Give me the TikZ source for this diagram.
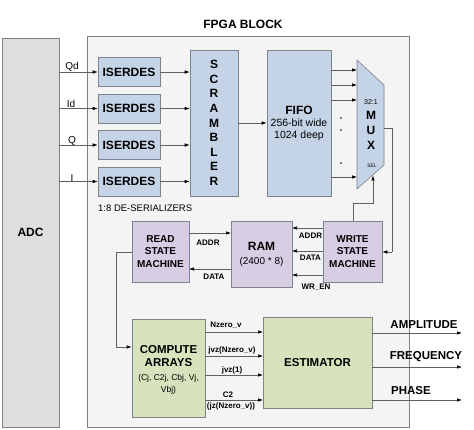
\documentclass[tikz,border=0pt]{standalone}
\usepackage{fontspec}
\setmainfont{Liberation Sans}
\usetikzlibrary{arrows.meta}
\definecolor{blk}{RGB}{196,212,230}
\definecolor{prp}{RGB}{216,206,228}
\definecolor{grn}{RGB}{214,227,188}
\definecolor{bord}{RGB}{125,130,140}
\definecolor{fpgabg}{RGB}{244,244,244}
\definecolor{adcbg}{RGB}{222,222,222}
\definecolor{wire}{RGB}{95,95,95}
\tikzset{
  box/.style={draw=bord, line width=0.6pt, inner sep=0pt, anchor=center},
  bluebox/.style={box, fill=blk},
  purplebox/.style={box, fill=prp, align=center, font=\fontsize{10}{12.5}\selectfont\bfseries},
  greenbox/.style={box, fill=grn, align=center},
  conn/.style={draw=wire, line width=0.6pt, -{Latex[length=5pt,width=3.5pt,color=black]}},
  plainline/.style={draw=wire, line width=0.6pt},
  lbl/.style={inner sep=0pt, font=\fontsize{10}{12}\selectfont},
  slbl/.style={inner sep=0pt, font=\fontsize{8}{9}\selectfont\bfseries},
  olbl/.style={inner sep=0pt, font=\fontsize{11.5}{13}\selectfont\bfseries},
}
\begin{document}
\begin{tikzpicture}[x=1pt,y=-1pt]
\useasboundingbox (0,0) rectangle (474,430);
% ADC and FPGA backgrounds
\node[box, draw=gray, fill=adcbg, minimum width=57pt, minimum height=389pt, font=\fontsize{12}{14}\selectfont\bfseries] (adc) at (30.5,232.5) {ADC};
\node[box, draw=gray, fill=fpgabg, minimum width=322pt, minimum height=391pt] (fpga) at (248,231.5) {};
\node[inner sep=0pt, font=\fontsize{12}{14}\selectfont\bfseries] (title) at (243,24) {FPGA BLOCK};
% ISERDES
\foreach \n/\y in {1/72,2/108.5,3/145,4/181.5}{
  \node[bluebox, minimum width=62pt, minimum height=29pt, font=\fontsize{12}{14}\selectfont\bfseries] (is\n) at (129,\y) {ISERDES};
}
\foreach \n/\t/\lx/\ly in {1/Qd/72/67,2/Id/71/104,3/Q/72/141,4/I/72/178}{
  \coordinate (a\n) at (adc.east |- is\n.west);
  \draw[conn] (a\n) -- (is\n.west);
  \node[lbl] (sl\n) at (\lx,\ly) {\t};
}
\node[lbl, anchor=west, font=\fontsize{9.5}{11}\selectfont] (deser) at (98,208) {1:8 DE-SERIALIZERS};
% Scrambler
\node[bluebox, minimum width=48pt, minimum height=146pt, align=center, font=\fontsize{12}{14.6}\selectfont\bfseries] (scr) at (214,123) {S\\C\\R\\A\\M\\B\\L\\E\\R};
\foreach \n in {1,2,3,4}{
  \coordinate (s\n) at (scr.west |- is\n.east);
  \draw[conn] (is\n.east) -- (s\n);
}
% FIFO
\node[bluebox, minimum width=64pt, minimum height=146pt] (fifo) at (299,123) {};
\node[inner sep=0pt, font=\fontsize{12}{14}\selectfont\bfseries] (fifot) at (299,110) {FIFO};
\node[inner sep=0pt, align=center, font=\fontsize{10.5}{12}\selectfont] (fifos) at (299,130) {256-bit wide\\1024 deep};
\draw[conn] (scr.east) -- (fifo.west);
% MUX
\coordinate (m1) at (357,60);
\coordinate (m2) at (384,85);
\coordinate (m3) at (384,165);
\coordinate (m4) at (357,189);
\draw[draw=bord, line width=0.6pt, fill=blk] (m1) -- (m2) -- (m3) -- (m4) -- cycle;
\node[inner sep=0pt, font=\fontsize{7}{8}\selectfont] (mux321) at (371,102) {32:1};
\node[inner sep=0pt, align=center, font=\fontsize{12}{15}\selectfont\bfseries] (muxt) at (371,130) {M\\U\\X};
\node[inner sep=0pt, font=\fontsize{5}{6}\selectfont] (sel) at (372,166) {SEL};
\foreach \n/\y in {1/70,2/85,3/100,4/177}{
  \coordinate (f\n) at (331,\y);
  \coordinate (mi\n) at (357,\y);
  \draw[conn] (f\n) -- (mi\n);
}
\foreach \n/\y in {1/118,2/130,3/163}{
  \fill (341,\y) circle (0.9pt);
}
% RAM block
\node[purplebox, minimum width=57pt, minimum height=61pt] (rsm) at (160.5,251.5) {READ\\STATE\\MACHINE};
\node[box, fill=prp, minimum width=61pt, minimum height=66pt] (ram) at (261.5,254) {};
\node[inner sep=0pt, font=\fontsize{12}{14}\selectfont\bfseries] (ramt) at (261.5,246) {RAM};
\node[inner sep=0pt, font=\fontsize{10}{12}\selectfont] (rams) at (261.5,262) {(2400 * 8)};
\node[purplebox, minimum width=59pt, minimum height=61pt] (wsm) at (352.5,251.5) {WRITE\\STATE\\MACHINE};
% MUX output to WSM
\coordinate (mo) at (384,128);
\coordinate (mo1) at (392,128);
\coordinate (mo2) at (392,252);
\draw[plainline] (mo) -- (mo1) -- (mo2);
\draw[conn] (mo2) -- (wsm.east |- mo2);
% SEL
\coordinate (sl0) at (353,221);
\coordinate (sla) at (353,203);
\coordinate (slb) at (373,203);
\coordinate (slc) at (373,175.5);
\draw[conn] (sl0) -- (sla) -- (slb) -- (slc);
% RSM <-> RAM
\coordinate (r1) at (189,233);
\coordinate (r2) at (231,233);
\draw[conn] (r1) -- (r2);
\coordinate (r3) at (231,269);
\coordinate (r4) at (189,269);
\draw[conn] (r3) -- (r4);
\node[slbl] (la1) at (208,243) {ADDR};
\node[slbl] (la2) at (214,277) {DATA};
% WSM -> RAM
\foreach \n/\y in {1/228,2/251,3/275}{
  \coordinate (w\n) at (323,\y);
  \coordinate (wr\n) at (292,\y);
  \draw[conn] (w\n) -- (wr\n);
}
\node[slbl] (lw1) at (310.5,236) {ADDR};
\node[slbl] (lw2) at (310.5,258) {DATA};
\node[slbl] (lw3) at (316,287) {WR\_EN};
% compute arrays
\node[greenbox, minimum width=73pt, minimum height=98pt] (ca) at (168.5,368) {};
\node[inner sep=0pt, align=center, font=\fontsize{11.5}{13}\selectfont\bfseries] (cat) at (168.5,356.5) {COMPUTE\\ARRAYS};
\node[inner sep=0pt, align=center, font=\fontsize{8.5}{12}\selectfont] (cas) at (168.5,384) {(Cj, C2j, Cbj, Vj,\\Vbj)};
\coordinate (rl1) at (116,252);
\coordinate (rl2) at (116,347);
\draw[plainline] (rsm.west |- rl1) -- (rl1) -- (rl2);
\draw[conn] (rl2) -- (ca.west |- rl2);
% estimator
\node[greenbox, minimum width=109pt, minimum height=91pt, font=\fontsize{11.5}{13}\selectfont\bfseries] (est) at (317.5,362.5) {ESTIMATOR};
\foreach \n/\y in {1/332,2/356,3/375,4/400}{
  \coordinate (c\n) at (205,\y);
  \coordinate (e\n) at (263,\y);
  \draw[conn] (c\n) -- (e\n);
}
\node[slbl] (lc1) at (226,325) {Nzero\_v};
\node[slbl] (lc2) at (232,350) {jvz(Nzero\_v)};
\node[slbl] (lc3) at (232,370) {jvz(1)};
\node[slbl] (lc4) at (228,395) {C2};
\node[slbl] (lc5) at (231,406) {(jz(Nzero\_v))};
% outputs
\foreach \n/\y in {1/333,2/367,3/400}{
  \coordinate (o\n) at (372,\y);
  \coordinate (oe\n) at (462,\y);
  \draw[conn] (o\n) -- (oe\n);
}
\node[olbl] (amp) at (424,325) {AMPLITUDE};
\node[olbl] (freq) at (426,357) {FREQUENCY};
\node[olbl] (phase) at (411,391) {PHASE};
\end{tikzpicture}
\end{document}
